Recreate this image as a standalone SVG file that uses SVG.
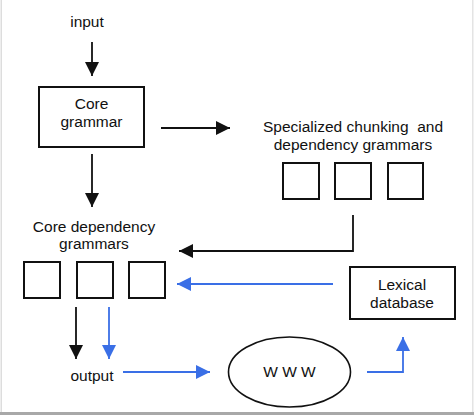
<svg xmlns="http://www.w3.org/2000/svg" width="474" height="415" viewBox="0 0 474 415">
<style>
text{font-family:"Liberation Sans",Arial,sans-serif;font-size:15.5px;fill:#111;text-anchor:middle;white-space:pre}
.box{fill:#fff;stroke:#111;stroke-width:2}
.k{fill:none;stroke:#111;stroke-width:1.8}
.b{fill:none;stroke:#3a6fe6;stroke-width:1.8}
</style>
<defs>
<marker id="ak" viewBox="0 0 10 10" refX="10" refY="5" markerWidth="14" markerHeight="14" markerUnits="userSpaceOnUse" orient="auto"><path d="M0,0L10,5L0,10z" fill="#111"/></marker>
<marker id="ab" viewBox="0 0 10 10" refX="10" refY="5" markerWidth="14" markerHeight="14" markerUnits="userSpaceOnUse" orient="auto"><path d="M0,0L10,5L0,10z" fill="#3a6fe6"/></marker>
</defs>
<rect x="0" y="0" width="474" height="415" fill="#fff"/>
<rect x="0.5" y="0" width="1.5" height="415" fill="#ddd"/>
<rect x="472" y="0" width="1.5" height="415" fill="#e4e4e4"/>
<rect x="0" y="412" width="474" height="3" fill="#a8a8a8"/>
<g id="input"><text x="87" y="27">input</text></g>
<g id="core-grammar"><rect class="box" x="39" y="87" width="105" height="60"/><text x="91.5" y="109">Core</text><text x="91.5" y="127">grammar</text></g>
<g id="specialized"><text x="353" y="132" xml:space="preserve">Specialized chunking  and</text><text x="353" y="150">dependency grammars</text>
<rect class="box" x="283" y="163" width="36" height="36"/><rect class="box" x="335" y="163" width="36" height="36"/><rect class="box" x="388" y="163" width="35" height="36"/></g>
<g id="core-dependency"><text x="94" y="232">Core dependency</text><text x="94" y="249">grammars</text>
<rect class="box" x="24" y="262" width="36" height="36"/><rect class="box" x="77" y="262" width="36" height="36"/><rect class="box" x="129" y="262" width="36" height="36"/></g>
<g id="lexical"><rect class="box" x="350" y="267" width="105" height="52"/><text x="402" y="290">Lexical</text><text x="402" y="308">database</text></g>
<g id="www"><ellipse cx="289.5" cy="372" rx="61" ry="35" fill="#fff" stroke="#111" stroke-width="1.6"/><text x="289.5" y="377">W W W</text></g>
<g id="output"><text x="92" y="381">output</text></g>
<g id="connectors">
<path class="k" d="M92,42V76" marker-end="url(#ak)"/>
<path class="k" d="M161,128H230" marker-end="url(#ak)"/>
<path class="k" d="M92,154V207" marker-end="url(#ak)"/>
<path class="k" d="M353,215V251H179" marker-end="url(#ak)"/>
<path class="b" d="M333,284H177" marker-end="url(#ab)"/>
<path class="k" d="M76,307V359" marker-end="url(#ak)"/>
<path class="b" d="M109,307V359" marker-end="url(#ab)"/>
<path class="b" d="M123,372H210" marker-end="url(#ab)"/>
<path class="b" d="M367,372H403V337" marker-end="url(#ab)"/>
</g>
</svg>
